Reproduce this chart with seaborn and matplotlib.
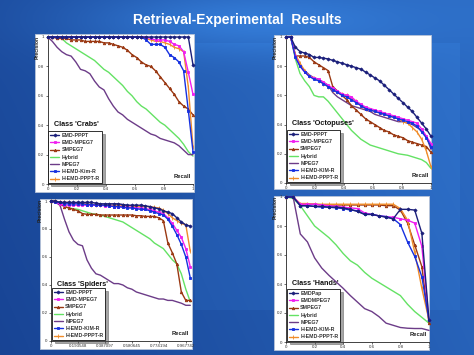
import numpy as np
import matplotlib
matplotlib.use("Agg")
import matplotlib.pyplot as plt
from matplotlib.patches import Rectangle
import seaborn as sns

sns.set_style("white")
plt.rcParams['font.family'] = ['Liberation Sans', 'DejaVu Sans']

# recall axis categories (Excel line chart, 32 points / 21 points)
recall_32 = np.arange(32) / 31
recall_21 = np.arange(21) / 20

# ---- Class 'Crabs'
crabs_emd_pppt = [1, 1, 1, 1, 1, 1, 1, 1, 1, 1, 1, 1, 1, 1, 1, 1, 1, 1, 1, 1, 1, 1, 1, 1, 1, 1, 1, 1, 1, 1, 1, .81]
crabs_emd_mpeg7 = [1, 1, 1, 1, 1, 1, 1, 1, 1, 1, 1, 1, 1, 1, 1, 1, 1, 1, 1, 1, 1, 1, .99, .98, .98, .98, .97, .95, .94, .90, .76, .61]
crabs_smpeg7 = [1, 1, .99, .99, .99, .98, .98, .98, .97, .97, .97, .97, .96, .96, .95, .94, .93, .91, .88, .86, .83, .81, .80, .77, .73, .69, .65, .61, .56, .53, .51, .47]
crabs_hybrid = [1, 1, 1, .99, .96, .94, .92, .90, .88, .86, .84, .81, .78, .76, .73, .70, .67, .63, .60, .56, .53, .51, .48, .45, .42, .40, .37, .34, .31, .27, .22, .19]
crabs_mpeg7 = [1, .97, .93, .90, .88, .87, .83, .78, .77, .75, .70, .66, .64, .58, .53, .49, .47, .44, .42, .40, .38, .36, .34, .33, .31, .30, .29, .28, .26, .23, .20, .20]
crabs_kim_r = [1, 1, 1, 1, 1, 1, 1, 1, 1, 1, 1, 1, 1, 1, 1, 1, 1, 1, 1, 1, 1, .98, .95, .95, .95, .93, .88, .86, .83, .77, .50, .22]
crabs_pppt_r = [1, 1, 1, 1, 1, 1, 1, 1, 1, 1, 1, 1, 1, 1, 1, 1, 1, 1, 1, 1, 1, .99, .98, .97, .97, .96, .95, .93, .92, .90, .66, .25]

# ---- Class 'Octopuses'
oct_emd_pppt = [1, 1, .93, .90, .89, .88, .86, .86, .855, .85, .84, .83, .82, .81, .80, .79, .78, .76, .74, .72, .70, .67, .64, .61, .58, .55, .52, .49, .45, .41, .37, .32]
oct_emd_mpeg7 = [1, 1, .87, .80, .76, .73, .72, .71, .69, .67, .65, .63, .61, .60, .59, .56, .54, .52, .51, .50, .49, .48, .47, .46, .45, .44, .43, .42, .41, .37, .32, .27]
oct_smpeg7 = [1, 1, .87, .87, .87, .86, .83, .81, .79, .77, .66, .63, .60, .57, .53, .50, .47, .44, .42, .40, .38, .36, .35, .33, .32, .31, .29, .28, .27, .26, .25, .21]
oct_hybrid = [1, 1, .85, .75, .70, .66, .60, .59, .59, .56, .52, .48, .44, .40, .36, .33, .30, .28, .26, .25, .24, .23, .22, .21, .20, .195, .19, .18, .17, .16, .14, .10]
oct_mpeg7 = [1, 1, .88, .80, .77, .74, .72, .71, .69, .67, .62, .59, .57, .55, .53, .52, .51, .50, .49, .47, .46, .45, .44, .43, .42, .42, .41, .40, .38, .36, .32, .23]
oct_kim_r = [1, 1, .86, .80, .76, .73, .71, .70, .68, .66, .64, .62, .60, .59, .57, .55, .53, .51, .50, .49, .48, .47, .46, .45, .44, .43, .42, .41, .39, .35, .31, .25]
oct_pppt_r = [1, 1, .88, .82, .77, .73, .72, .70, .68, .66, .64, .62, .61, .60, .58, .56, .53, .51, .50, .49, .48, .47, .46, .45, .44, .42, .41, .38, .35, .30, .22, .11]

# ---- Class 'Spiders'
sp_emd_pppt = [1, 1, .99, .99, .99, .99, .99, .99, .99, .99, .985, .98, .98, .98, .98, .98, .975, .97, .97, .97, .97, .965, .96, .95, .945, .93, .92, .91, .88, .85, .83, .82]
sp_emd_mpeg7 = [1, .99, .98, .97, .97, .97, .97, .97, .97, .97, .97, .97, .965, .965, .96, .96, .96, .955, .955, .95, .95, .945, .94, .93, .92, .91, .88, .84, .79, .74, .66, .53]
sp_smpeg7 = [1, 1, .98, .96, .95, .94, .93, .91, .905, .905, .905, .90, .90, .90, .90, .90, .90, .90, .90, .895, .895, .89, .89, .89, .88, .86, .70, .63, .55, .35, .29, .29]
sp_hybrid = [1, .99, .98, .96, .95, .945, .94, .93, .92, .91, .905, .90, .89, .88, .87, .86, .85, .83, .81, .79, .77, .75, .73, .70, .68, .66, .62, .58, .55, .48, .37, .28]
sp_mpeg7 = [1, .99, .97, .87, .78, .72, .69, .68, .58, .52, .48, .47, .45, .43, .41, .41, .40, .38, .37, .35, .34, .33, .32, .31, .30, .30, .29, .29, .28, .27, .255, .255]
sp_kim_r = [1, .99, .99, .98, .98, .98, .98, .98, .975, .975, .97, .97, .97, .965, .96, .96, .955, .95, .95, .945, .94, .94, .93, .92, .91, .90, .87, .82, .76, .69, .60, .45]
sp_pppt_r = [1, 1, .99, .99, .99, .98, .98, .98, .98, .975, .975, .97, .97, .97, .97, .97, .97, .965, .965, .96, .96, .96, .96, .955, .95, .935, .91, .88, .86, .84, .83, .64]

# ---- Class 'Hands'
h_emdpap = [1, 1, .94, .94, .935, .935, .93, .93, .925, .915, .90, .88, .88, .87, .86, .85, .915, .915, .91, .75, .15]
h_emdmpeg7 = [1, 1, .95, .95, .95, .945, .94, .935, .93, .925, .92, .89, .88, .87, .865, .86, .85, .84, .82, .66, .15]
h_smpeg7 = [1, 1, .95, .95, .95, .945, .945, .945, .945, .945, .945, .945, .945, .945, .94, .94, .91, .82, .67, .52, .13]
h_hybrid = [1, .99, .94, .87, .80, .76, .72, .67, .61, .56, .53, .48, .44, .41, .38, .35, .32, .26, .21, .17, .13]
h_mpeg7 = [1, 1, .745, .69, .58, .51, .46, .415, .37, .32, .275, .23, .21, .175, .13, .115, .10, .095, .093, .093, .08]
h_kim_r = [1, 1, .94, .94, .935, .93, .93, .925, .92, .91, .905, .88, .88, .87, .865, .85, .81, .69, .59, .45, .15]
h_pppt_r = [1, 1, .955, .955, .95, .95, .95, .95, .95, .95, .95, .95, .95, .95, .95, .95, .92, .84, .62, .37, .15]

labels_a = ["EMD-PPPT", "EMD-MPEG7", "SMPEG7", "Hybrid", "MPEG7", "H-EMD-Kim-R", "H-EMD-PPPT-R"]
labels_b = ["EMD-PPPT", "EMD-MPEG7", "SMPEG7", "Hybrid", "MPEG7", "H-EMD-KIM-R", "H-EMD-PPPT-R"]
labels_h = ["EMDPap", "EMDMPEG7", "SMPEG7", "Hybrid", "MPEG7", "H-EMD-KIM-R", "H-EMD-PPPT-R"]

# style per method slot (colour, marker, size, zorder)
styles = [
    dict(color="#1b1f7a", marker="D", ms=1.6, z=9),
    dict(color="#f01ef0", marker="s", ms=1.8, z=7),
    dict(color="#9a3812", marker="^", ms=1.8, z=5),
    dict(color="#64e264", marker=None, ms=0, z=3),
    dict(color="#6c3c88", marker=None, ms=0, z=4),
    dict(color="#1630e0", marker="s", ms=1.6, z=8),
    dict(color="#f08c2a", marker="|", ms=2.4, z=6),
]

W, H = 474, 355


def fig_rect(x0, y0, x1, y1):
    return [x0 / W, 1 - y1 / H, (x1 - x0) / W, (y1 - y0) / H]


fig = plt.figure(figsize=(W / 100, H / 100), dpi=100)

# slide background
yy, xx = np.mgrid[0:1:355j, 0:1:474j]
t = 0.38 + 0.3 * xx - 0.1 * yy + 0.3 * np.exp(-((yy - 0.06) / 0.09) ** 2) * np.exp(-((xx - 0.5) / 0.35) ** 2)
inner = (xx > 195 / W) & (xx < 460 / W) & (yy > 43 / H) & (yy < 310 / H)
t = t + 0.07 * inner
t = np.clip(t, 0, 1)
dark = np.array([10, 40, 115]) / 255
light = np.array([60, 140, 235]) / 255
img = dark + t[..., None] * (light - dark)
bg = fig.add_axes([0, 0, 1, 1])
bg.imshow(img, aspect="auto", interpolation="bilinear")
bg.set_axis_off()
bg.set_zorder(-5)

fig.text(0.5, 1 - 20 / H, "Retrieval-Experimental  Results", color="white",
         fontsize=10, fontweight="bold", ha="center", va="center",
         family=["Liberation Sans Narrow", "Liberation Sans", "DejaVu Sans"], zorder=5)

panels = [
    dict(card=(35, 34, 194, 192), ax=(47.7, 37, 193, 184), title="Class 'Crabs'",
         x=recall_32, labels=labels_a, xlim=1.0,
         xt=[0, .2, .4, .6, .8, 1], xtl=["0", "0.2", "0.4", "0.6", "0.8", "1"],
         series=[crabs_emd_pppt, crabs_emd_mpeg7, crabs_smpeg7, crabs_hybrid, crabs_mpeg7, crabs_kim_r, crabs_pppt_r]),
    dict(card=(274, 35, 431, 189), ax=(286, 37, 431, 183), title="Class 'Octopuses'",
         x=recall_32, labels=labels_b, xlim=1.0,
         xt=[0, .2, .4, .6, .8, 1], xtl=["0", "0.2", "0.4", "0.6", "0.8", "1"],
         series=[oct_emd_pppt, oct_emd_mpeg7, oct_smpeg7, oct_hybrid, oct_mpeg7, oct_kim_r, oct_pppt_r]),
    dict(card=(40, 199, 192, 349), ax=(51, 201, 191, 341), title="Class 'Spiders'",
         x=recall_32, labels=labels_b, xlim=1.005,
         xt=[0, 6 / 31, 12 / 31, 18 / 31, 24 / 31, 30 / 31],
         xtl=["0", "0.193548", "0.387097", "0.580645", "0.774194", "0.967742"],
         series=[sp_emd_pppt, sp_emd_mpeg7, sp_smpeg7, sp_hybrid, sp_mpeg7, sp_kim_r, sp_pppt_r]),
    dict(card=(274, 196, 429, 350), ax=(286, 197, 429, 342), title="Class 'Hands'",
         x=recall_21, labels=labels_h, xlim=1.0,
         xt=[0, .2, .4, .6, .8, 1], xtl=["0", "0.2", "0.4", "0.6", "0.8", "1"],
         series=[h_emdpap, h_emdmpeg7, h_smpeg7, h_hybrid, h_mpeg7, h_kim_r, h_pppt_r]),
]

for p in panels:
    x0, y0, x1, y1 = p["card"]
    fig.add_artist(Rectangle((x0 / W, 1 - y1 / H), (x1 - x0) / W, (y1 - y0) / H,
                             transform=fig.transFigure, facecolor="white",
                             edgecolor="#b8c4d8", lw=0.6, zorder=0))
    ax = fig.add_axes(fig_rect(*p["ax"]))
    ax.set_zorder(1)
    ax.patch.set_alpha(0)
    for vals, lab, st in zip(p["series"], p["labels"], styles):
        sns.lineplot(x=p["x"], y=vals, ax=ax, color=st["color"], marker=st["marker"],
                     markersize=st["ms"], markeredgewidth=0.6, markeredgecolor=st["color"],
                     lw=1.0, label=lab, zorder=st["z"], clip_on=False, estimator=None)
    ax.set_xlim(0, p["xlim"])
    ax.set_ylim(0, 1)
    ax.set_xticks(p["xt"])
    ax.set_xticklabels(p["xtl"])
    ax.set_yticks([0, .2, .4, .6, .8, 1])
    ax.set_yticklabels(["0", "0.2", "0.4", "0.6", "0.8", "1"])
    ax.tick_params(labelsize=3.2, length=1.5, width=0.5, pad=1, colors="#333333",
                   bottom=True, left=True)
    for s in ["top", "right"]:
        ax.spines[s].set_visible(False)
    for s in ["left", "bottom"]:
        ax.spines[s].set_color("#222222")
        ax.spines[s].set_linewidth(0.6)
    ax.set_xlabel("")
    ax.set_ylabel("")
    ax.text(-0.075, 0.93, "Precision", transform=ax.transAxes, rotation=90,
            ha="center", va="center", fontsize=3.6, fontweight="bold", color="#222222")
    ax.text(0.985, 0.035, "Recall", transform=ax.transAxes, ha="right", va="bottom",
            fontsize=4.2, fontweight="bold", color="#222222")
    ax.text(0.04, 0.405, p["title"], transform=ax.transAxes, ha="left", va="center",
            fontsize=5.2, fontweight="bold", color="#111111")
    leg = ax.legend(loc="lower left", bbox_to_anchor=(0.0, 0.0), borderaxespad=0.15,
                    prop={"size": 3.8, "weight": "bold"}, handlelength=1.7,
                    handletextpad=0.5, labelspacing=0.42, borderpad=0.35,
                    frameon=True, fancybox=False, shadow=True, framealpha=1)
    leg.get_frame().set_edgecolor("#111111")
    leg.get_frame().set_linewidth(0.6)
    leg.set_zorder(20)
    for txt in leg.get_texts():
        txt.set_color("#333333")

fig.savefig("out.png", dpi=100)
